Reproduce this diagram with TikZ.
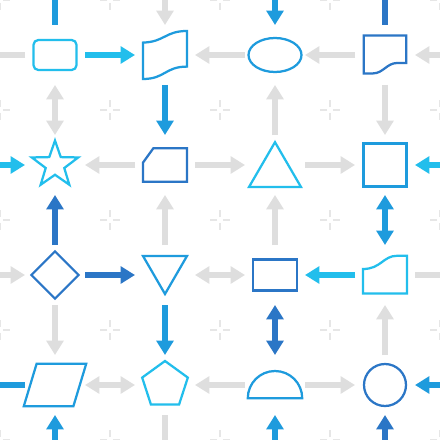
\documentclass[tikz,border=0pt]{standalone}
\usepackage{tikz}
\usetikzlibrary{shapes.geometric, arrows.meta}
\definecolor{skyblue}{HTML}{22BEEC}
\definecolor{midblue}{HTML}{1E9BDD}
\definecolor{deepblue}{HTML}{2B76C6}
\definecolor{fadegray}{HTML}{DEDEDE}
\definecolor{crossgray}{HTML}{E6E6E6}
\tikzstyle{shapeline} = [line width=1.6pt, inner sep=0pt, outer sep=0pt]
\tikzstyle{holder} = [rectangle, minimum width=1.1cm, minimum height=1.1cm, inner sep=0pt]
\tikzstyle{rbox} = [rectangle, rounded corners=0.12cm, minimum width=1.075cm, minimum height=0.75cm, shapeline, draw=skyblue]
\tikzstyle{ovalbox} = [ellipse, minimum width=1.325cm, minimum height=0.85cm, shapeline, draw=midblue]
\tikzstyle{starbox} = [star, star points=5, star point ratio=2.5, minimum size=1.22cm, shapeline, draw=skyblue]
\tikzstyle{sqbox} = [rectangle, minimum width=1.075cm, minimum height=1.075cm, shapeline, draw=midblue]
\tikzstyle{diabox} = [diamond, minimum width=1.18cm, minimum height=1.18cm, shapeline, draw=deepblue]
\tikzstyle{recbox} = [rectangle, minimum width=1.1cm, minimum height=0.775cm, shapeline, draw=deepblue]
\tikzstyle{pentbox} = [regular polygon, regular polygon sides=5, minimum size=1.2cm, shapeline, draw=skyblue]
\tikzstyle{circbox} = [circle, minimum size=1.05cm, shapeline, draw=deepblue]
\tikzstyle{cross} = [line width=1.1pt, draw=crossgray]
\tikzstyle{arrow} = [line width=4.3pt, -{Triangle[length=0.36cm,width=0.42cm]}, shorten <=0.75cm, shorten >=0.75cm]
\tikzstyle{twoway} = [line width=4.3pt, {Triangle[length=0.36cm,width=0.42cm]}-{Triangle[length=0.36cm,width=0.42cm]}, shorten <=0.75cm, shorten >=0.75cm]

\begin{document}
\begin{tikzpicture}[node distance=2.75cm]
\useasboundingbox (0,0) rectangle (11,-11);
\clip (0,0) rectangle (11,-11);
\fill[white] (0,0) rectangle (11,-11);
\foreach \i in {0,...,4} {
  \foreach \j in {0,...,4} {
    \draw[cross, shift={(\i*2.75,-\j*2.75)}] (0.07,0) -- (0.25,0) (-0.07,0) -- (-0.25,0) (0,0.07) -- (0,0.25) (0,-0.07) -- (0,-0.25);
  }
}
\node (rrect) [rbox] at (1.375,-1.375) {};
\node (tape) [holder, right of=rrect] {};
\node (oval) [ovalbox, right of=tape] {};
\node (doc) [holder, right of=oval] {};
\node (star5) [starbox, below of=rrect] {};
\node (cutbox) [holder, right of=star5] {};
\node (tri) [holder, right of=cutbox] {};
\node (sqr) [sqbox, right of=tri] {};
\node (dia) [diabox, below of=star5] {};
\node (itri) [holder, right of=dia] {};
\node (rect) [recbox, right of=itri] {};
\node (wave) [holder, right of=rect] {};
\node (para) [holder, below of=dia] {};
\node (pent) [pentbox, right of=para] {};
\node (half) [holder, right of=pent] {};
\node (circ) [circbox, right of=half] {};
\node (w1) [coordinate, left of=rrect] {};
\node (w2) [coordinate, left of=star5] {};
\node (w3) [coordinate, left of=dia] {};
\node (w4) [coordinate, left of=para] {};
\node (e1) [coordinate, right of=doc] {};
\node (e2) [coordinate, right of=sqr] {};
\node (e3) [coordinate, right of=wave] {};
\node (e4) [coordinate, right of=circ] {};
\node (n1) [coordinate, above of=rrect] {};
\node (n2) [coordinate, above of=tape] {};
\node (n3) [coordinate, above of=oval] {};
\node (n4) [coordinate, above of=doc] {};
\node (s1) [coordinate, below of=para] {};
\node (s2) [coordinate, below of=pent] {};
\node (s3) [coordinate, below of=half] {};
\node (s4) [coordinate, below of=circ] {};
\draw[shapeline, draw=midblue, shift={(tape.center)}] (-0.55,0.31) .. controls (0,0.33) and (0,0.6) .. (0.55,0.6) -- (0.55,-0.29) .. controls (0,-0.29) and (0,-0.6) .. (-0.55,-0.6) -- cycle;
\draw[shapeline, draw=deepblue, shift={(doc.center)}] (-0.53,0.49) -- (0.53,0.49) -- (0.53,-0.2) -- (0.3,-0.2) .. controls (0.05,-0.2) and (-0.05,-0.46) .. (-0.3,-0.46) -- (-0.53,-0.46) -- cycle;
\draw[shapeline, draw=deepblue, shift={(cutbox.center)}] (-0.29,0.42) -- (0.55,0.42) -- (0.55,-0.42) -- (-0.55,-0.42) -- (-0.55,0.06) -- cycle;
\draw[shapeline, draw=skyblue, shift={(tri.center)}] (0,0.57) -- (0.65,-0.55) -- (-0.65,-0.55) -- cycle;
\draw[shapeline, draw=midblue, shift={(itri.center)}] (-0.55,0.475) -- (0.55,0.475) -- (0,-0.475) -- cycle;
\draw[shapeline, draw=skyblue, shift={(wave.center)}] (-0.55,-0.46) -- (-0.55,0.15) .. controls (-0.1,0.15) and (-0.05,0.48) .. (0.3,0.48) -- (0.55,0.48) -- (0.55,-0.46) -- cycle;
\draw[shapeline, draw=midblue, shift={(para.center)}] (-0.46,0.53) -- (0.78,0.53) -- (0.46,-0.53) -- (-0.78,-0.53) -- cycle;
\draw[shapeline, draw=midblue, shift={(half.center)}] (-0.68,-0.33) -- (0.68,-0.33) arc[start angle=0, end angle=180, radius=0.68] -- cycle;
\draw [arrow, fadegray] (e1) -- (doc.center);
\draw [arrow, fadegray] (rrect.center) -- (w1);
\draw [twoway, skyblue] (sqr.center) -- (e2);
\draw [twoway, skyblue] (w2) -- (star5.center);
\draw [arrow, fadegray] (wave.center) -- (e3);
\draw [arrow, fadegray] (w3) -- (dia.center);
\draw [arrow, midblue] (e4) -- (circ.center);
\draw [arrow, midblue] (para.center) -- (w4);
\draw [arrow, midblue] (rrect.center) -- (n1);
\draw [arrow, midblue] (s1) -- (para.center);
\draw [arrow, fadegray] (n2) -- (tape.center);
\draw [arrow, fadegray] (pent.center) -- (s2);
\draw [twoway, midblue] (n3) -- (oval.center);
\draw [twoway, midblue] (half.center) -- (s3);
\draw [arrow, deepblue] (s4) -- (circ.center);
\draw [arrow, deepblue] (doc.center) -- (n4);
\draw [arrow, skyblue] (rrect.center) -- (tape.center);
\draw [arrow, fadegray] (oval.center) -- (tape.center);
\draw [arrow, fadegray] (doc.center) -- (oval.center);
\draw [arrow, fadegray] (cutbox.center) -- (star5.center);
\draw [arrow, fadegray] (cutbox.center) -- (tri.center);
\draw [arrow, fadegray] (tri.center) -- (sqr.center);
\draw [arrow, deepblue] (dia.center) -- (itri.center);
\draw [twoway, fadegray] (itri.center) -- (rect.center);
\draw [arrow, skyblue] (wave.center) -- (rect.center);
\draw [twoway, fadegray] (para.center) -- (pent.center);
\draw [arrow, fadegray] (half.center) -- (pent.center);
\draw [arrow, fadegray] (half.center) -- (circ.center);
\draw [twoway, fadegray] (rrect.center) -- (star5.center);
\draw [arrow, deepblue] (dia.center) -- (star5.center);
\draw [arrow, fadegray] (dia.center) -- (para.center);
\draw [arrow, midblue] (tape.center) -- (cutbox.center);
\draw [arrow, fadegray] (itri.center) -- (cutbox.center);
\draw [arrow, midblue] (itri.center) -- (pent.center);
\draw [arrow, fadegray] (tri.center) -- (oval.center);
\draw [arrow, fadegray] (rect.center) -- (tri.center);
\draw [twoway, deepblue] (rect.center) -- (half.center);
\draw [arrow, fadegray] (doc.center) -- (sqr.center);
\draw [twoway, midblue] (sqr.center) -- (wave.center);
\draw [arrow, fadegray] (circ.center) -- (wave.center);
\end{tikzpicture}
\end{document}
